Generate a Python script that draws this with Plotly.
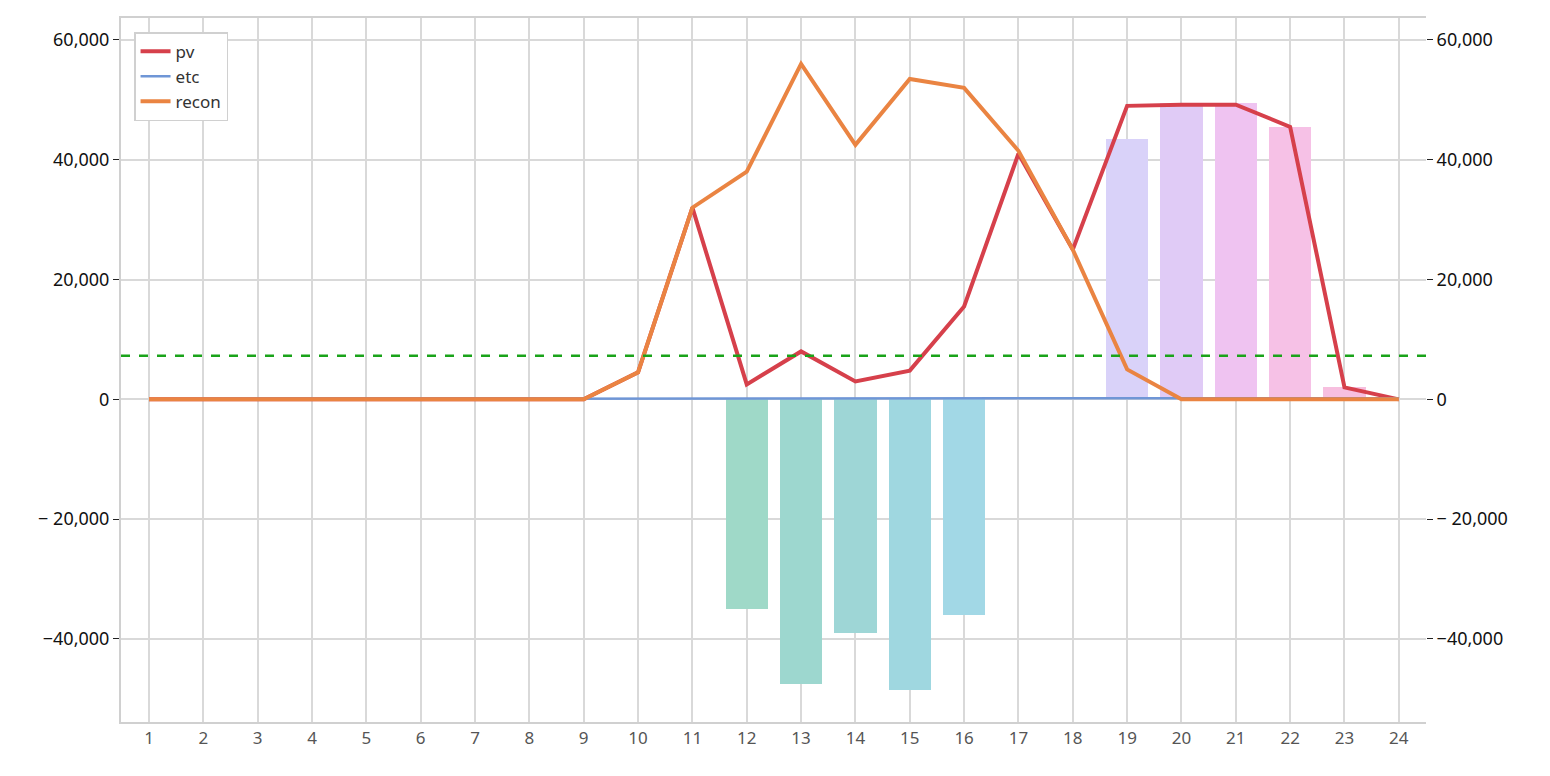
import plotly.graph_objects as go

hours = list(range(1, 25))
pv = [0,0,0,0,0,0,0,0,0,4500,32000,2500,8000,3000,4800,15500,41000,25000,49000,49200,49200,45500,2000,0]
etc = [0,100,100,100,100,100,100,100,100,200,200,200,200,200,200,200,200,200,200,200,200,200,200,200]
recon = [0,0,0,0,0,0,0,0,0,4500,32000,38000,56000,42500,53500,52000,41500,25000,5000,0,0,0,0,0]
bar_vals = [0]*11 + [-35000,-47500,-39000,-48500,-36000,0,0,43500,49500,49500,45500,2000,0]
bar_colors = ["#ffffff"]*11 + ["#9fd9c8","#9dd7cf","#9ed6d6","#9fd7e0","#a2d8e6","#fff","#fff",
              "#d9d2f9","#e0cbf6","#efc3f1","#f6c1e6","#f7bfdf","#fff"]
threshold = 7300

tickvals = [-40000,-20000,0,20000,40000,60000]
ticktext = ["−40,000","− 20,000","0","20,000","40,000","60,000"]

fig = go.Figure()
fig.add_trace(go.Bar(x=hours, y=bar_vals, marker=dict(color=bar_colors, line_width=0),
                     width=0.78, showlegend=False))
fig.add_trace(go.Scatter(x=hours, y=pv, name="pv", mode="lines", line=dict(color="#d6404b", width=4)))
fig.add_trace(go.Scatter(x=hours, y=etc, name="etc", mode="lines", line=dict(color="#6f96d6", width=2.5)))
fig.add_trace(go.Scatter(x=hours, y=recon, name="recon", mode="lines", line=dict(color="#ea8442", width=4)))
fig.add_trace(go.Scatter(x=[hours[0]], y=[0], yaxis="y2", showlegend=False, hoverinfo="skip",
                         mode="markers", marker=dict(opacity=0)))
fig.add_shape(type="line", xref="paper", x0=0, x1=1, y0=threshold, y1=threshold,
              line=dict(color="#1aa31a", width=2.5, dash="dash"))

yr = [-53870, 63670]
ax = dict(range=yr, tickvals=tickvals, ticktext=ticktext, showgrid=True, gridcolor="#d9d9d9",
          gridwidth=1.5, zeroline=False, ticks="outside", ticklen=6, tickcolor="#222",
          tickfont=dict(family="Noto Sans", size=18, color="#111"))
fig.update_layout(
    width=1550, height=776, plot_bgcolor="white", paper_bgcolor="white",
    margin=dict(l=113, r=132, t=8, b=62), bargap=0,
    xaxis=dict(range=[0.485, 24.5], tickvals=hours, showgrid=True, gridcolor="#d9d9d9", gridwidth=1.5,
               zeroline=False, showline=True, mirror=True, linecolor="#d0d0d0", linewidth=2,
               tickfont=dict(family="Noto Sans", size=17, color="#555")),
    yaxis=dict(**ax, showline=True, linecolor="#d0d0d0", linewidth=2),
    yaxis2=dict(**{k: v for k, v in ax.items() if k != "showgrid"}, overlaying="y", side="right",
                showgrid=False),
    legend=dict(x=0.01, y=0.98, xanchor="left", yanchor="top", bgcolor="white",
                bordercolor="#d0d0d0", borderwidth=1.5,
                font=dict(family="Noto Sans", size=17, color="#333")),
)
fig.write_html("out.html")
